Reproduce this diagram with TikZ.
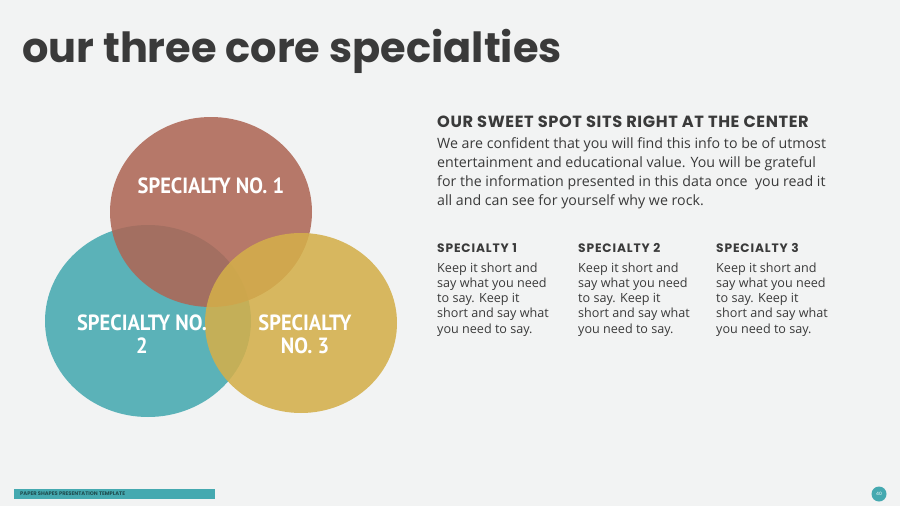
\documentclass[tikz,border=0pt]{standalone}
\usepackage{fontspec}
\usepackage{tikz}
\usetikzlibrary{shapes.geometric,positioning}
\setmainfont{Open Sans}
\newfontfamily\titlefont{Poppins}
\newfontfamily\headfont[LetterSpace=3.8]{Poppins}
\newfontfamily\colfont[LetterSpace=7]{Poppins}
\newfontfamily\blobfont[FakeStretch=0.93]{PT Sans}
\definecolor{paper}{HTML}{F2F3F3}
\definecolor{inkgray}{HTML}{3A3A3A}
\definecolor{blobred}{HTML}{AE6655}
\definecolor{blobteal}{HTML}{45A9B0}
\definecolor{blobgold}{HTML}{D4AF4A}
\tikzset{
    blob/.style={ellipse, inner sep=0pt, fill opacity=0.87, text opacity=1},
    blob label/.style={font=\blobfont\bfseries\fontsize{22}{23}\selectfont, text=white, align=center},
    head text/.style={anchor=base west, inner sep=0pt, text=inkgray, font=\headfont\bfseries\fontsize{16.2}{17}\selectfont},
    body text/.style={anchor=base west, inner sep=0pt, text=inkgray, align=left, font=\fontsize{14.2}{19.2}\selectfont},
    col head/.style={anchor=base west, inner sep=0pt, text=inkgray, font=\colfont\bfseries\fontsize{12.2}{13}\selectfont},
    col text/.style={anchor=base west, inner sep=0pt, text=inkgray, align=left, font=\fontsize{12.6}{15.3}\selectfont}
}
\begin{document}
\begin{tikzpicture}[x=1pt,y=-1pt]
	\fill[paper] (0,0) rectangle (900,506);
	\useasboundingbox (0,0) rectangle (900,506);
	\node[anchor=base west, inner sep=0pt, text=inkgray, font=\titlefont\bfseries\fontsize{41.5}{44}\selectfont] (title) at (22,62) {our three core specialties};
	% the three blobs
	\node[blob, fill=blobteal, minimum width=206, minimum height=192] (teal) at (148,321) {};
	\node[blob, fill=blobred, minimum width=202, minimum height=190] (red) at (211,212) {};
	\node[blob, fill=blobgold, minimum width=192, minimum height=180] (gold) at (301,323) {};
	\node[blob label] (lab1) at (211,186) {SPECIALTY NO. 1};
	\node[blob label] (lab2) at (142,334) {SPECIALTY NO.\\2};
	\node[blob label] (lab3) at (305,334) {SPECIALTY\\NO. 3};
	% text on the right (base = last line)
	\node[head text] (head) at (437,127) {OUR SWEET SPOT SITS RIGHT AT THE CENTER};
	\node[body text] (para) at (437,205.6) {We are confident that you will find this info to be of utmost\\entertainment and educational value. You will be grateful\\for the information presented in this data once \ you read it\\all and can see for yourself why we rock.};
	\foreach \n/\x in {1/437, 2/578, 3/716}{
		\node[col head] (colhead\n) at (\x,252) {SPECIALTY \n};
		\node[col text] (coltext\n) at (\x,333.2) {Keep it short and\\say what you need\\to say. Keep it\\short and say what\\you need to say.};
	}
	% footer
	\node[anchor=west, fill=blobteal, minimum width=201, minimum height=10, inner sep=0pt] (bar) at (14,494) {};
	\node[anchor=west, inner sep=0pt, text=blobteal!45!black, font=\titlefont\bfseries\fontsize{5.2}{6}\selectfont] (bartext) at (20,494) {PAPER SHAPES PRESENTATION TEMPLATE};
	\node[circle, fill=blobteal, minimum size=15, inner sep=0pt, text=white, font=\titlefont\fontsize{4.5}{5}\selectfont] (page) at (879,494) {40};
\end{tikzpicture}
\end{document}
